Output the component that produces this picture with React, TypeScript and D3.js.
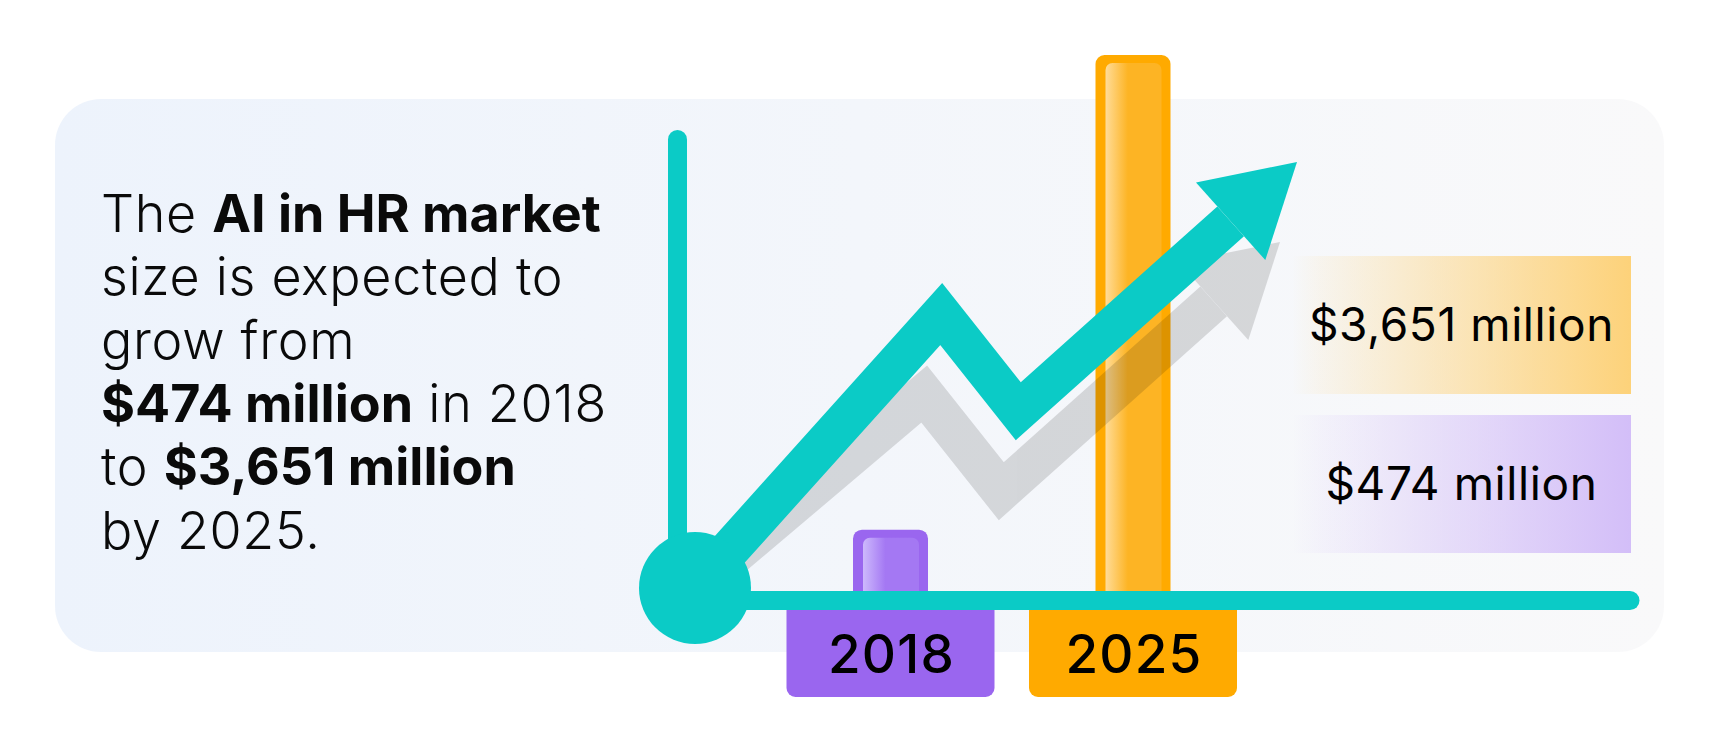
import React from "react";
import * as d3 from "d3";

const categories = ["2018", "2025"];
const values = [474, 3651];
const valueLabels = ["$474 million", "$3,651 million"];
const barColors = ["#9a66ef", "#ffaa00"];
const barInnerLight = ["#cdb9fc", "#ffdc98"];
const barInnerMain = ["#a478f3", "#fdb424"];
const labelGradEnd = ["#d3bef8", "#fdd27a"];

// decorative growth trend (abstract units 0..100)
const trendX = [0, 40.9, 53.7, 100];
const trendY = [0, 64.3, 41.5, 100];

const textLines: { t: string; b: boolean }[][] = [
  [{ t: "The ", b: false }, { t: "AI in HR market", b: true }],
  [{ t: "size is expected to", b: false }],
  [{ t: "grow from", b: false }],
  [{ t: "$474 million", b: true }, { t: " in 2018", b: false }],
  [{ t: "to ", b: false }, { t: "$3,651 million", b: true }],
  [{ t: "by 2025.", b: false }],
];

const W = 1720;
const H = 750;
const FONT = "Inter, 'Noto Sans', sans-serif";

export default function App() {
  const axisY = 600.5;
  const axisX = 677.5;
  const origin = { x: 695, y: 588 };

  const x = d3.scalePoint<string>().domain(categories).range([890.5, 1133]);
  const y = d3.scaleLinear().domain([0, 3651]).range([axisY, 55]);
  const barW = 75;
  const labelW = 208;

  const tx = d3.scaleLinear().domain([0, 100]).range([origin.x, 1297]);
  const ty = d3.scaleLinear().domain([0, 100]).range([origin.y, 162]);
  const pts = trendX.map((v, i) => [tx(v), ty(trendY[i])] as [number, number]);

  const headLen = 89;
  const headHalf = 52;
  const shaft = 40;

  const buildArrow = (p: [number, number][]) => {
    const tip = p[p.length - 1];
    const prev = p[p.length - 2];
    const dx = tip[0] - prev[0];
    const dy = tip[1] - prev[1];
    const len = Math.hypot(dx, dy);
    const ux = dx / len;
    const uy = dy / len;
    const base: [number, number] = [tip[0] - ux * headLen, tip[1] - uy * headLen];
    const px = -uy;
    const py = ux;
    const head = [
      tip,
      [base[0] + px * headHalf, base[1] + py * headHalf],
      [base[0] - px * headHalf, base[1] - py * headHalf],
    ];
    const line = d3.line()([...p.slice(0, -1), base]);
    return { line: line || "", head: "M" + head.map((q) => q.join(",")).join("L") + "Z" };
  };

  const main = buildArrow(pts);
  const shadowPts = pts.map((q, i) => (i === 0 ? q : ([q[0] - 17, q[1] + 80] as [number, number])));
  const shadow = buildArrow(shadowPts);

  const orderIdx = [1, 0];

  return (
    <svg width={W} height={H} style={{ position: "absolute", left: 0, top: 0, display: "block" }} fontFamily={FONT}>
      <defs>
        <linearGradient id="bg" x1="0" x2="1" y1="0" y2="0">
          <stop offset="0" stopColor="#edf3fc" />
          <stop offset="1" stopColor="#f9f9fa" />
        </linearGradient>
        {categories.map((c, i) => (
          <linearGradient key={c} id={"inner" + i} x1="0" x2="1" y1="0" y2="0">
            <stop offset="0" stopColor={barInnerLight[i]} />
            <stop offset="0.4" stopColor={barInnerMain[i]} />
            <stop offset="1" stopColor={barInnerMain[i]} />
          </linearGradient>
        ))}
        {categories.map((c, i) => (
          <linearGradient key={"lg" + c} id={"lab" + i} x1="0" x2="1" y1="0" y2="0">
            <stop offset="0" stopColor={labelGradEnd[i]} stopOpacity="0" />
            <stop offset="0.08" stopColor={labelGradEnd[i]} stopOpacity="0.1" />
            <stop offset="1" stopColor={labelGradEnd[i]} stopOpacity="1" />
          </linearGradient>
        ))}
      </defs>
      <rect x={0} y={0} width={W} height={H} fill="#ffffff" />
      <rect x={55} y={99} width={1609} height={553} rx={46} fill="url(#bg)" />

      {/* text block */}
      <text x={101} y={232} fontSize={52} fill="#0a0a0a">
        {textLines.map((line, li) => (
          <tspan key={li} x={101} y={232 + li * 63.3}>
            {line.map((s, si) => (
              <tspan key={si} fontWeight={s.b ? 700 : 300} letterSpacing={s.b ? 0 : 0.7}>
                {s.t}
              </tspan>
            ))}
          </tspan>
        ))}
      </text>

      {/* value label boxes */}
      {orderIdx.map((i, k) => {
        const top = k === 0 ? 256 : 415;
        return (
          <g key={"vl" + i}>
            <rect x={1292} y={top} width={339} height={138} fill={`url(#lab${i})`} />
            <text x={1461.5} y={top + 85} fontSize={46} letterSpacing={0.6} textAnchor="middle" fill="#000">
              {valueLabels[i]}
            </text>
          </g>
        );
      })}

      {/* bars */}
      {categories.map((c, i) => {
        const cx = x(c)!;
        const top = y(values[i]);
        return (
          <g key={"bar" + c}>
            <rect x={cx - barW / 2} y={top} width={barW} height={axisY - top + 10} rx={9} fill={barColors[i]} />
            <rect x={cx - barW / 2 + 10} y={top + 8} width={barW - 19} height={axisY - top} rx={7} fill={`url(#inner${i})`} />
          </g>
        );
      })}

      {/* category label boxes */}
      {categories.map((c, i) => {
        const cx = x(c)!;
        return (
          <g key={"cl" + c}>
            <rect x={cx - labelW / 2} y={596} width={labelW} height={101} rx={9} fill={barColors[i]} />
            <text x={cx + 1} y={673} fontSize={53} fontWeight={500} letterSpacing={1.2} textAnchor="middle" fill="#000">
              {c}
            </text>
          </g>
        );
      })}

      {/* shadow arrow */}
      <g opacity={0.13}>
        <path d={shadow.line} fill="none" stroke="#000" strokeWidth={shaft} strokeLinejoin="miter" strokeMiterlimit={10} />
        <path d={shadow.head} fill="#000" />
      </g>

      {/* axes */}
      <line x1={axisX} x2={axisX} y1={139.5} y2={origin.y} stroke="#0bcbc6" strokeWidth={19} strokeLinecap="round" />
      <line x1={origin.x} x2={1630} y1={axisY} y2={axisY} stroke="#0bcbc6" strokeWidth={19} strokeLinecap="round" />

      {/* main arrow */}
      <path d={main.line} fill="none" stroke="#0bcbc6" strokeWidth={shaft} strokeLinejoin="miter" strokeMiterlimit={10} />
      <path d={main.head} fill="#0bcbc6" />

      <circle cx={origin.x} cy={origin.y} r={56} fill="#0bcbc6" />
    </svg>
  );
}
